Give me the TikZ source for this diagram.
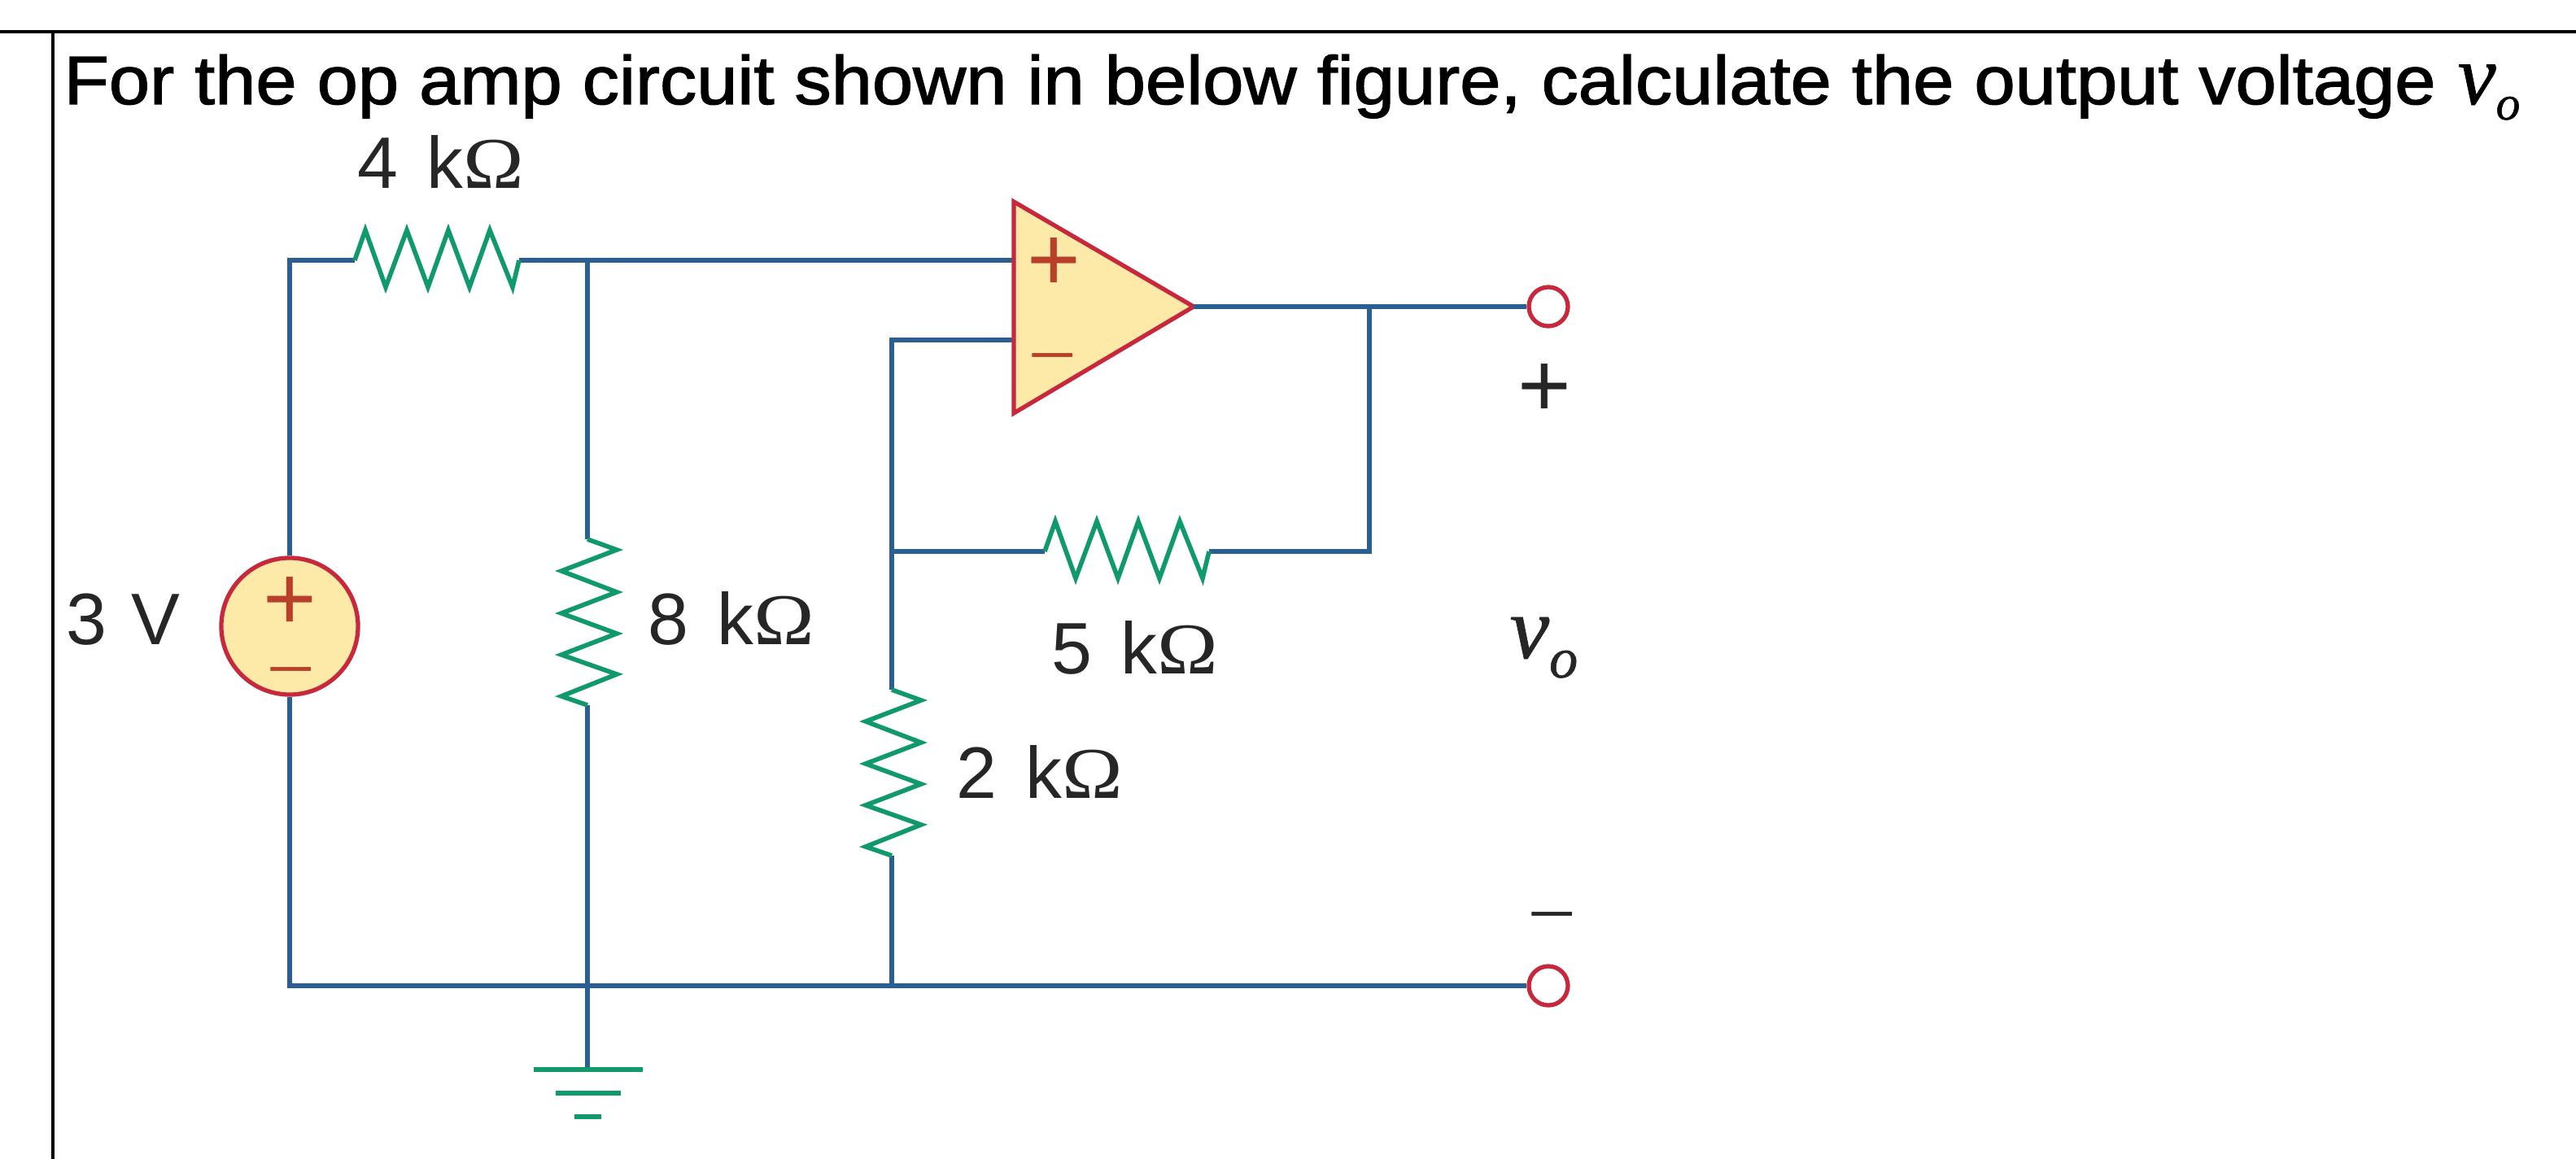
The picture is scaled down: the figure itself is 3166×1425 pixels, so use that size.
\documentclass[tikz,border=0pt]{standalone}
\usepackage{fontspec}
\usetikzlibrary{positioning}
\setmainfont{Liberation Sans}
\newfontfamily\omegafont[FakeStretch=1.12]{Liberation Serif}
\newfontfamily\dashfont{Liberation Serif}
\newfontfamily\titlefont[FakeStretch=1.074, FakeBold=1.6]{Liberation Sans}
\newfontfamily\vofont[FakeBold=0.8]{Liberation Serif}
\definecolor{wireblue}{HTML}{2A5F94}
\definecolor{resgreen}{HTML}{109A6C}
\definecolor{partred}{HTML}{C8283C}
\definecolor{partfill}{HTML}{FDE9A8}
\definecolor{signred}{HTML}{B8402A}
\newcommand{\kohm}[1]{#1\hspace{0.11em} k{\omegafont\char"03A9}}
\newcommand{\vout}[3]{{\vofont\itshape\fontsize{#1}{#1}\selectfont v\raisebox{-#3pt}{\fontsize{#2}{#2}\selectfont o}}}
\tikzset{
    wire/.style={draw=wireblue, line width=1.5pt},
    rule/.style={draw=black, line width=1.1pt},
    zig/.style={draw=resgreen, line width=1.6pt, line join=miter},
    part/.style={draw=partred, line width=1.5pt, fill=partfill},
    label/.style={inner sep=0pt, text=black!85, font=\fontsize{25.5}{30}\selectfont},
    plussign/.style={inner sep=0pt, yshift=-0.06cm, font=\fontsize{32}{36}\selectfont},
    minussign/.style={inner sep=0pt, yshift=-0.1cm, font=\dashfont\fontsize{27.5}{32}\selectfont},
    term/.style={circle, draw=partred, line width=1.5pt, fill=white, minimum size=0.48cm, inner sep=0pt},
    hres/.pic={\draw[zig] (0,0) -- (13,-37) -- (38,33) -- (64,-37) -- (90,33) -- (115,-37) -- (141,33) -- (166,-37) -- (194,33) -- (202,0);},
    vres/.pic={\draw[zig] (0,0) -- (36,13) -- (-32,39) -- (36,65) -- (-32,91) -- (36,116) -- (-32,142) -- (36,166) -- (-32,193) -- (0,204);}
}
\begin{document}
\begin{tikzpicture}[x=0.01cm, y=-0.01cm]
    \useasboundingbox (0,0) rectangle (3166,1425);
    \coordinate (topl) at (0,39);
    \coordinate (topr) at (3166,39);
    \coordinate (edget) at (65,39);
    \coordinate (edgeb) at (65,1425);
    \draw[rule] (topl) -- (topr);
    \draw[rule] (edget) -- (edgeb);
    \node[anchor=base west, inner sep=0pt, font=\titlefont\fontsize{23.9}{28}\selectfont] (title) at (78,128)
        {For the op amp circuit shown in below figure, calculate the output voltage};
    \node[anchor=base west, inner sep=0pt] (titlevo) at (3020,128) {\vout{30}{17}{5.4}};

    \node[part, circle, minimum size=1.68cm, inner sep=0pt] (src) at (356,770) {};
    \coordinate (corntl) at (356,320);
    \coordinate (cornbl) at (356,1212);
    \coordinate (r4a) at (436,320);
    \coordinate (r4b) at (638,320);
    \coordinate (topn) at (722,320);
    \coordinate (r8a) at (722,663);
    \coordinate (r8b) at (722,867);
    \coordinate (botn) at (722,1212);
    \coordinate (gnd) at (722,1315);
    \coordinate (ampt) at (1246,248);
    \coordinate (ampb) at (1246,508);
    \coordinate (ampo) at (1467,377);
    \coordinate (ampp) at (1246,320);
    \coordinate (ampm) at (1246,418);
    \coordinate (negc) at (1096,418);
    \coordinate (negn) at (1096,678);
    \coordinate (r5a) at (1284,678);
    \coordinate (r5b) at (1486,678);
    \coordinate (fbr) at (1683,678);
    \coordinate (fbt) at (1683,377);
    \coordinate (r2a) at (1096,848);
    \coordinate (r2b) at (1096,1052);
    \coordinate (r2n) at (1096,1212);

    \draw[wire] (src) -- (corntl) -- (r4a);
    \draw[wire] (r4b) -- (ampp);
    \draw[wire] (topn) -- (r8a);
    \draw[wire] (r8b) -- (gnd);
    \draw[wire] (src) -- (cornbl) -- (botn);
    \draw[wire] (ampm) -- (negc) -- (negn) -- (r2a);
    \draw[wire] (negn) -- (r5a);
    \draw[wire] (r5b) -- (fbr) -- (fbt);
    \draw[wire] (r2b) -- (r2n);

    \pic at (r4a) {hres};
    \pic at (r5a) {hres};
    \pic at (r8a) {vres};
    \pic at (r2a) {vres};

    \draw[part, line join=miter] (ampt) -- (ampo) -- (ampb) -- cycle;
    \node[plussign, text=signred] (ampplus) at (1295,319) {+};
    \node[minussign, text=signred] (ampminus) at (1294,437) {–};
    \node[plussign, text=signred] (srcplus) at (356,736) {+};
    \node[minussign, text=signred] (srcminus) at (358,823) {–};

    \node[term] (outp) at (1903,377) {};
    \node[term] (outm) at (1903,1212) {};
    \draw[wire] (ampo) -- (outp);
    \draw[wire] (botn) -- (outm);

    \draw[draw=resgreen, line width=1.7pt] (656,1315) -- (790,1315);
    \draw[draw=resgreen, line width=1.7pt] (683,1344) -- (763,1344);
    \draw[draw=resgreen, line width=1.7pt] (706,1373) -- (739,1373);

    \node[label, anchor=base west] (lab4k) at (439,232) {\kohm{4}};
    \node[label, anchor=base west] (lab8k) at (796,793) {\kohm{8}};
    \node[label, anchor=base west] (lab5k) at (1292,828) {\kohm{5}};
    \node[label, anchor=base west] (lab2k) at (1175,981) {\kohm{2}};
    \node[label, anchor=base west] (lab3v) at (81,793) {3\,\,V};
    \node[plussign, text=black!85] (vplus) at (1898,474) {+};
    \node[label, anchor=base west] (labvo) at (1855,809) {\vout{31}{20}{6.8}};
    \node[minussign, text=black!85] (vminus) at (1908,1124) {–};
\end{tikzpicture}
\end{document}
